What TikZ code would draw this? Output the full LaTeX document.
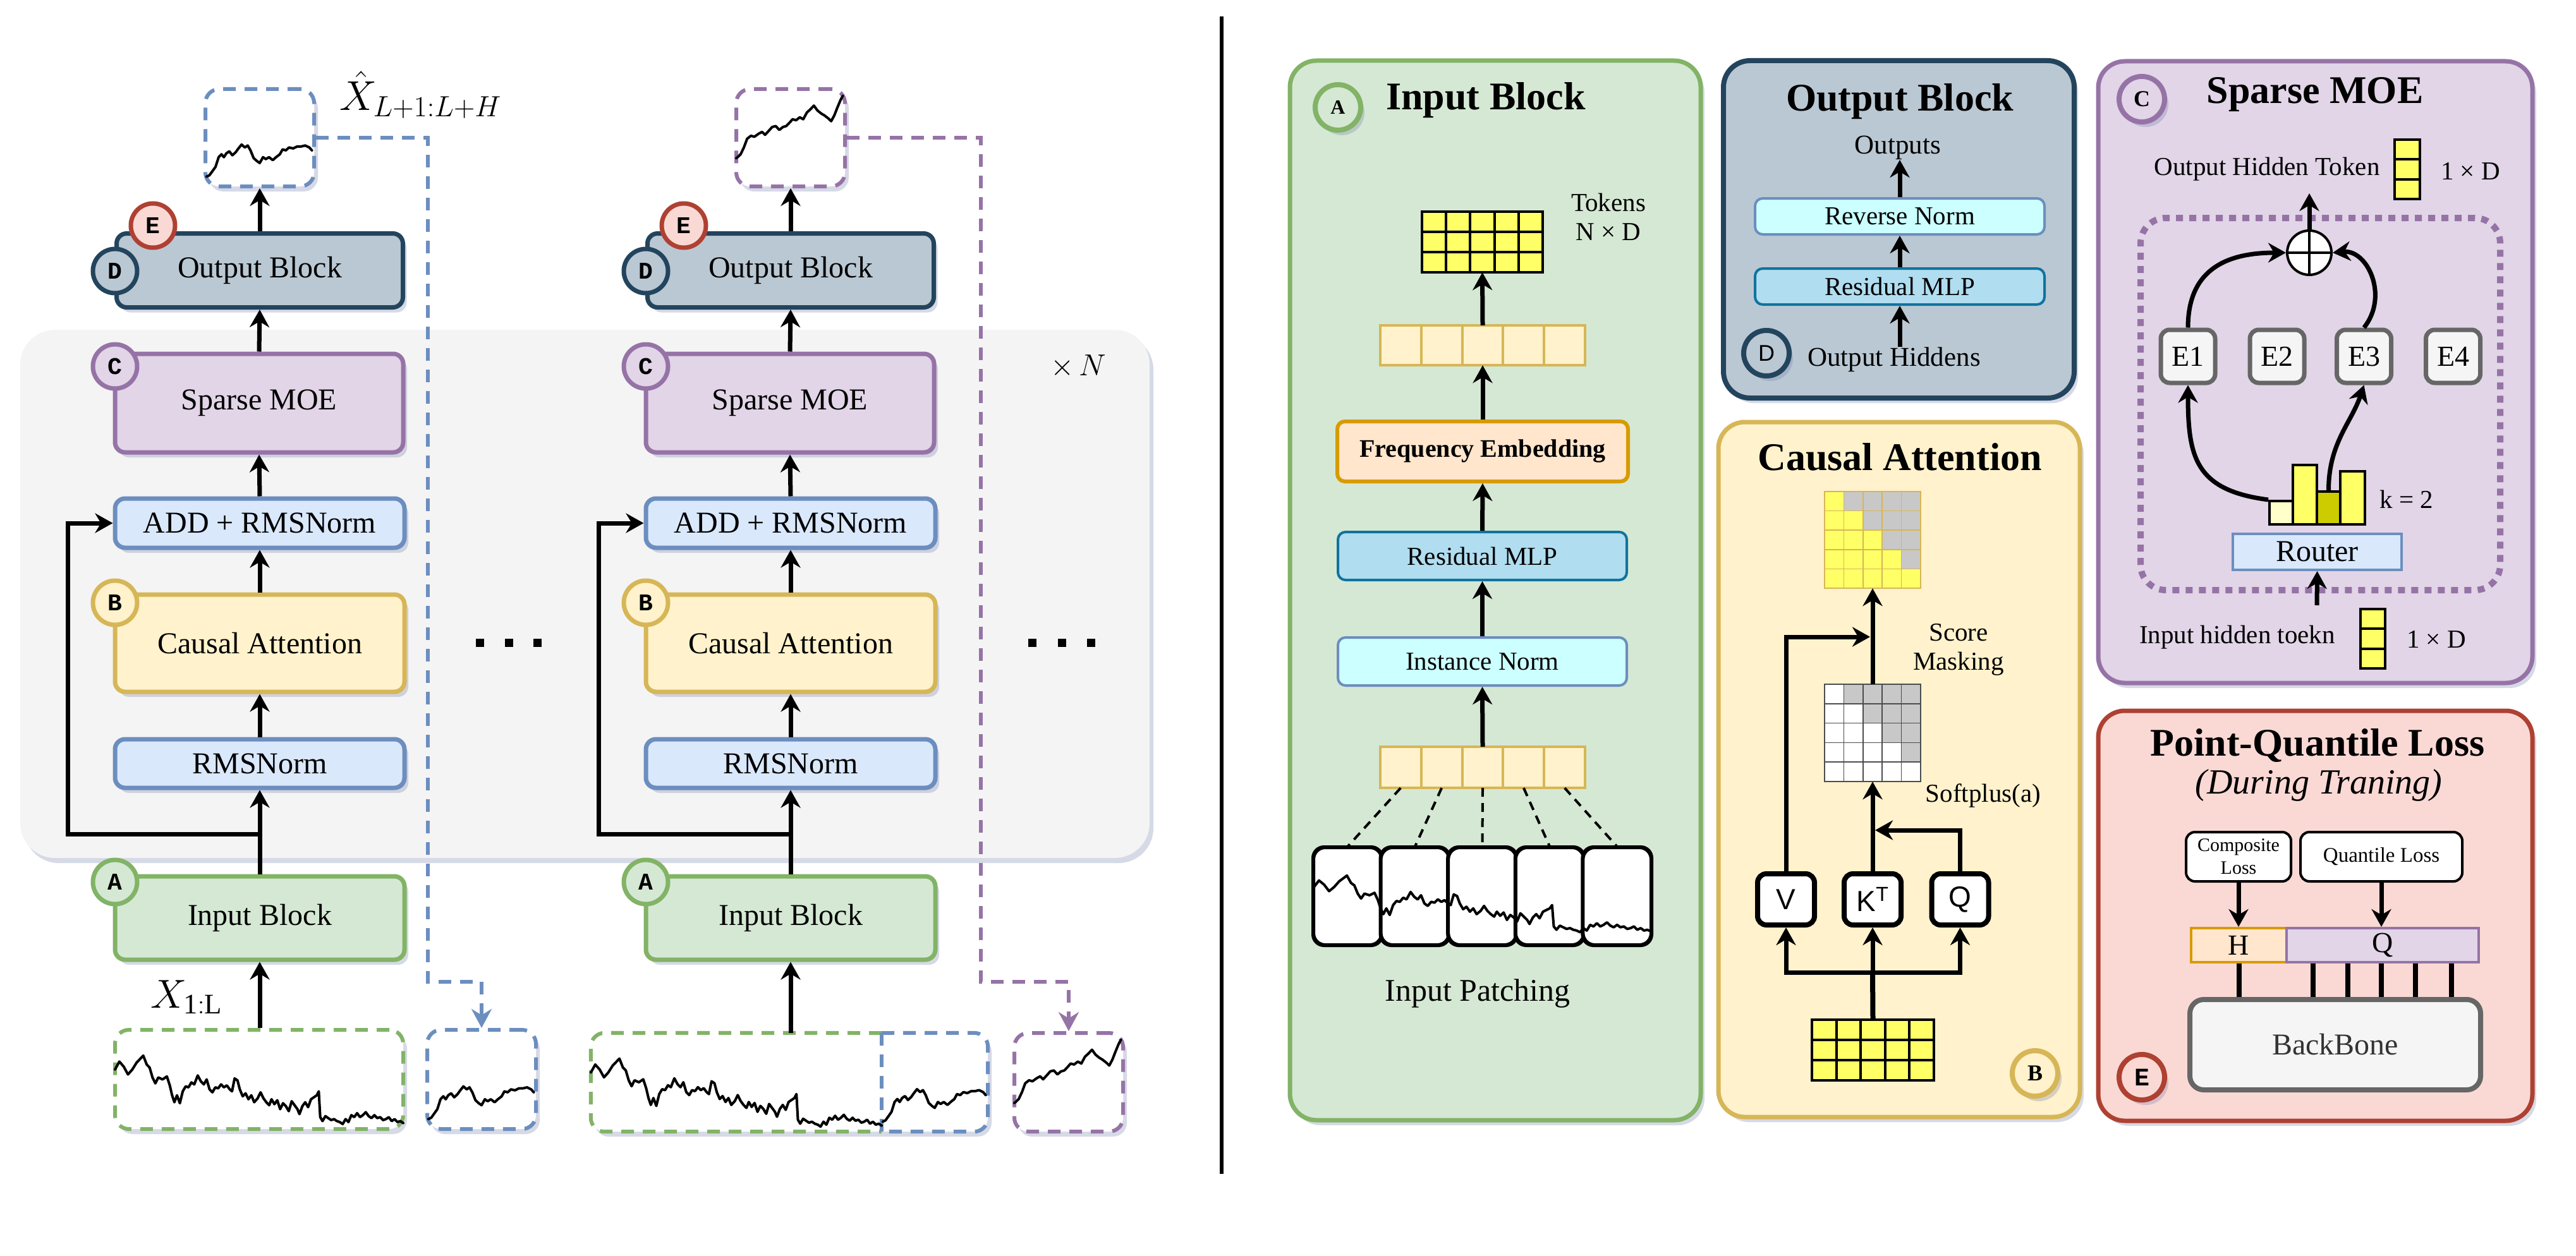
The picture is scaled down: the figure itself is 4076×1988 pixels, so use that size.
\RequirePackage{fix-cm}
\documentclass[tikz,border=0pt]{standalone}
\usepackage{fontspec}
\setmainfont{Liberation Serif}
\setsansfont{Liberation Sans}
\setmonofont{Liberation Mono}
\usetikzlibrary{arrows.meta,shadows,calc}
\definecolor{cG}{HTML}{82B366}\definecolor{cGf}{HTML}{D5E8D4}
\definecolor{cB}{HTML}{6C8EBF}\definecolor{cBf}{HTML}{DAE8FC}
\definecolor{cY}{HTML}{D6B656}\definecolor{cYf}{HTML}{FFF2CC}
\definecolor{cP}{HTML}{9673A6}\definecolor{cPf}{HTML}{E1D5E7}
\definecolor{cDB}{HTML}{23445D}\definecolor{cDBf}{HTML}{BAC8D3}
\definecolor{cR}{HTML}{AE4132}\definecolor{cRf}{HTML}{FAD9D5}
\definecolor{cO}{HTML}{D79B00}\definecolor{cOf}{HTML}{FFE6CC}
\definecolor{cCy}{HTML}{CCFFFF}
\definecolor{cRM}{HTML}{10739E}\definecolor{cRMf}{HTML}{B1DDF0}
\definecolor{cGr}{HTML}{666666}\definecolor{cGrf}{HTML}{F5F5F5}
\definecolor{cTok}{HTML}{FFFF66}\definecolor{cBar1}{HTML}{FFFFCC}
\definecolor{cBar3}{HTML}{CCCC00}\definecolor{cCell}{HTML}{C8C8C8}
\definecolor{shc}{HTML}{6F77A8}\definecolor{bgc}{HTML}{F4F4F4}
\newcommand\fsz[2]{\fontsize{#1}{#2}\selectfont}
\tikzset{
 sh/.style={drop shadow={shadow xshift=6pt, shadow yshift=-8pt, opacity=0.28, fill=shc}},
 lbox/.style={rounded corners=16pt, line width=7pt, inner sep=0pt, font=\fsz{48}{56}, sh},
 lcirc/.style={circle, line width=7pt, minimum size=70pt, inner sep=0pt, font=\ttfamily\bfseries\fsz{38}{40}},
 arr/.style={line width=7pt, -{Stealth[length=28pt,width=31pt]}},
 thk/.style={line width=8pt},
 dsh/.style={line width=6pt, dash pattern=on 20pt off 14pt, -{Stealth[length=30pt,width=32pt]}},
 obox/.style={rounded corners=22pt, line width=6pt, dash pattern=on 20pt off 14pt, fill=white, inner sep=0pt, sh},
 serie/.style={line width=4pt, line join=round, line cap=round, black},
 panel/.style={rounded corners=42pt, line width=7pt, inner sep=0pt, sh},
 ibox/.style={rounded corners=12pt, line width=4pt, inner sep=0pt, font=\fsz{41}{48}},
 ttl/.style={font=\bfseries\fsz{62}{70}, inner sep=0pt},
 txt/.style={font=\fsz{41}{46}, inner sep=0pt},
 rcirc/.style={circle, line width=8pt, minimum size=72pt, inner sep=0pt, sh},
 gridn/.style={inner sep=0pt},
 tokcell/.style={fill=cTok, draw=black, line width=4pt},
 rowcell/.style={fill=cYf, draw=cY, line width=4pt},
 patchbox/.style={rounded corners=18pt, line width=4pt, draw=black, fill=white, minimum width=106.6pt, minimum height=153pt, inner sep=0pt},
 pdash/.style={line width=4pt, dash pattern=on 14pt off 10pt},
 qkv/.style={rounded corners=14pt, line width=8pt, draw=black, fill=white, minimum width=90pt, minimum height=81pt, inner sep=0pt, font=\sffamily\fsz{46}{50}},
 expert/.style={draw=cGr, fill=cGrf, line width=7pt, rounded corners=14pt, minimum width=86pt, minimum height=84pt, inner sep=0pt, font=\fsz{46}{50}},
 barn/.style={draw=black, line width=4pt, inner sep=0pt},
 lossbox/.style={draw=black, fill=white, line width=4pt, rounded corners=14pt, inner sep=0pt},
}
\newcommand\serA{plot coordinates {(0,40) (1.5,32) (3,37) (4.5,45) (6,40) (7.5,33) (8.5,30) (9.8,26) (11,35) (12,38) (13,48) (14,54) (15,48) (16.5,50) (18,47) (19,56) (19.8,66) (20.6,73) (21.5,66) (22.5,74) (23.5,62) (24.5,57) (25.5,58) (26.5,53) (27.5,55) (28.7,46) (29.8,52) (30.8,55) (31.8,50) (32.8,60) (33.8,63) (34.8,58) (35.8,59) (36.8,55) (37.8,58) (38.8,56) (39.8,60) (40.6,62) (41.5,49) (42.5,51) (43.3,60) (44.3,67) (45.3,64) (46.3,70) (47.3,66) (48.3,73) (49.5,69) (50.5,63) (51.5,69) (52.5,73) (53.5,76) (54.3,70) (55.3,75) (56.3,71) (57.3,80) (58.3,74) (59.3,77) (60.3,82) (61.3,72) (62.3,76) (63.3,80) (64,85) (65,77) (66,73) (67,78) (68,70) (69,68) (70,66) (70.7,62) (71.2,88) (72,92) (73,87) (74,89) (75,91) (76,90) (77,92) (78,93) (79,95) (80,90) (81,93) (82,86) (83,88) (84,84) (85,88) (86,86) (87,83) (88,87) (89,89) (90,86) (91,89) (92,88) (93,91) (94,90) (95,88) (96,92) (97,90) (98,93) (99,92) (100,94)}}
\newcommand\serB{plot coordinates {(1,90) (3.7,88.6) (6.7,84) (9.3,80) (12.2,70) (14.8,67) (17,70) (19.3,66) (22,64) (24.8,68) (27.8,65) (30.4,61) (33.3,57) (36.3,60) (38.9,58) (41.5,63) (44.4,71) (47.4,74) (50,76) (53,70) (55.6,72) (58.5,70) (62,73) (65,70) (68.5,67) (71,62) (74,63) (77,60) (80.7,61) (84.4,59) (88,59) (91.8,58) (95.6,60) (98,63)}}
\newcommand\serC{plot coordinates {(0,71) (1.2,70) (4,67) (7,60) (10,51) (13.5,48) (16.7,49) (20.4,46) (23.7,44) (26.5,47) (29.8,43) (33,39) (36.3,38) (39.6,42) (42.9,39) (46,38) (49.4,34) (51.8,31) (55,32) (58.4,29) (61.6,31) (65,24) (68,21) (71.4,17) (74.7,22) (78,25) (81,27) (84.5,30) (87.3,33) (90.2,27) (93,19) (96,11) (98,7)}}
\newcommand\drawser[5]{\begin{scope}[shift={(#2,#3)},xscale=#4/100,yscale=#5/100]\draw[serie] #1;\end{scope}}
\newcommand\cellgrid[7]{%
 \foreach \ci in {1,...,#5}{\foreach \cj in {1,...,#6}{%
  \draw[#7] ({#1+(\ci-1)*#3},{#2+(\cj-1)*#4}) rectangle ++(#3,#4);}}}
\newcommand\archcol[4]{%
\begin{scope}[xshift=#2pt]
 \node[lbox, draw=cDB, fill=cDBf, minimum width=453pt, minimum height=117pt] (ob#1) at (411,428) {Output Block};
 \node[lcirc, draw=cDB, fill=cDBf] (circD#1) at (182,429) {D};
 \node[lcirc, draw=cR, fill=cRf] (circE#1) at (242,357) {E};
 \node[lbox, draw=cP, fill=cPf, minimum width=456pt, minimum height=156pt] (moe#1) at (410,638) {Sparse MOE};
 \node[lcirc, draw=cP, fill=cPf] (circC#1) at (182,580) {C};
 \node[lbox, draw=cB, fill=cBf, minimum width=458pt, minimum height=78pt] (add#1) at (411,828) {ADD + RMSNorm};
 \node[lbox, draw=cY, fill=cYf, minimum width=458pt, minimum height=154pt] (cat#1) at (411,1018) {Causal Attention};
 \node[lcirc, draw=cY, fill=cYf] (circB#1) at (182,954) {B};
 \node[lbox, draw=cB, fill=cBf, minimum width=458pt, minimum height=77pt] (rms#1) at (411,1208.5) {RMSNorm};
 \node[lbox, draw=cG, fill=cGf, minimum width=458pt, minimum height=132pt] (ib#1) at (411,1453) {Input Block};
 \node[lcirc, draw=cG, fill=cGf] (circA#1) at (182,1396) {A};
 \node[obox, draw=#3, minimum width=172pt, minimum height=154pt] (out#1) at (411,218) {};
 \drawser{#4}{325}{141}{172}{154}
 \draw[arr] (ob#1.north) -- (out#1.south);
 \draw[arr] (moe#1.north) -- (ob#1.south);
 \draw[arr] (add#1.north) -- (moe#1.south);
 \draw[arr] (cat#1.north) -- (add#1.south);
 \draw[arr] (rms#1.north) -- (cat#1.south);
 \draw[arr] (ib#1.north) -- (rms#1.south);
 \coordinate (j#1) at (411,1320);
 \coordinate (k#1) at (107,1320);
 \draw[arr] (j#1) -- (k#1) |- (add#1.west);
\end{scope}}
\begin{document}
\begin{tikzpicture}[x=1pt,y=-1pt]
\useasboundingbox (0,0) rectangle (4076,1988);
\fill[white] (0,0) rectangle (4076,1988);
% ================= LEFT PANEL =================
\node[fill=bgc, rounded corners=55pt, minimum width=1787pt, minimum height=836pt, inner sep=0pt, sh] (bg) at (925.5,940) {};
\node[inner sep=0pt, font=\fsz{48}{52}] (timesN) at (1706,580) {$\times\, N$};
\archcol{1}{0}{cB}{\serB}
\archcol{2}{840}{cP}{\serC}
% ellipses
\foreach \xx in {759,805,850,1633,1680,1726}{\fill ({\xx-6.5},1011) rectangle ++(13,13);}
% labels
\node[inner sep=0pt, font=\fsz{66}{70}] (xhat) at (665,150) {$\hat{X}_{L+1:L+H}$};
\node[inner sep=0pt, font=\fsz{64}{70}] (xin) at (295,1578) {$X_{\mathrm{1:L}}$};
% column 1 series boxes
\node[obox, draw=cG, minimum width=456pt, minimum height=157pt] (in1) at (410,1708.5) {};
\drawser{\serA}{182}{1630}{456}{157}
\node[obox, draw=cB, minimum width=172pt, minimum height=157pt] (gt1) at (762,1708.5) {};
\drawser{\serB}{676}{1630}{172}{157}
\draw[arr] (in1.north -| ib1.south) -- (ib1.south);
\coordinate (v1) at (677,1554);
\draw[dsh, draw=cB] (out1.east) -| (v1) -| (gt1.north);
% column 2 series boxes
\node[fill=white, inner sep=0pt, rounded corners=22pt, minimum width=628pt, minimum height=156pt, sh] (in2) at (1249,1713) {};
\draw[line width=6pt, dash pattern=on 20pt off 14pt, draw=cG, rounded corners=22pt] (1395,1635) -- (in2.north west) -- (in2.south west) -- (1395,1791);
\draw[line width=6pt, dash pattern=on 20pt off 14pt, draw=cB, rounded corners=22pt] (1395,1635) -- (in2.north east) -- (in2.south east) -- (1395,1791);
\draw[line width=6pt, dash pattern=on 20pt off 14pt, draw=cB] (1395,1635) -- (1395,1791);
\drawser{\serA}{935}{1635}{460}{156}
\drawser{\serB}{1395}{1635}{168}{156}
\node[obox, draw=cP, minimum width=172pt, minimum height=156pt] (gt2) at (1691,1713) {};
\drawser{\serC}{1605}{1635}{172}{156}
\draw[arr] (in2.north -| ib2.south) -- (ib2.south);
\coordinate (v2) at (1552,1554);
\draw[dsh, draw=cP] (out2.east) -| (v2) -| (gt2.north);
% divider
\draw[line width=6pt] (1933,26) -- (1933,1858);
% ================= PANEL A : INPUT BLOCK =================
\node[panel, draw=cG, fill=cGf, minimum width=650pt, minimum height=1677pt] (pA) at (2366,934.5) {};
\node[rcirc, draw=cG, fill=cGf, font=\bfseries\fsz{32}{36}] (cA) at (2117,170) {A};
\node[ttl] (tA) at (2351,159) {Input Block};
\node[gridn, minimum width=191pt, minimum height=96pt] (tokA) at (2345.5,383) {};
\cellgrid{2250}{335}{38.2}{32}{5}{3}{tokcell}
\node[txt, align=center] (lblTok) at (2545,343) {Tokens\\N × D};
\node[gridn, minimum width=324pt, minimum height=63pt] (rowA) at (2346,546.5) {};
\cellgrid{2184}{515}{64.8}{63}{5}{1}{rowcell}
\node[ibox, draw=cO, fill=cOf, line width=6pt, minimum width=460pt, minimum height=95pt, font=\bfseries\fsz{40}{48}] (fe) at (2346,714.5) {Frequency Embedding};
\node[ibox, draw=cRM, fill=cRMf, minimum width=457pt, minimum height=76pt] (rmA) at (2345.5,880) {Residual MLP};
\node[ibox, draw=cB, fill=cCy, minimum width=457pt, minimum height=76pt] (inorm) at (2345.5,1047) {Instance Norm};
\node[gridn, minimum width=324pt, minimum height=65pt] (rowB) at (2346,1214.5) {};
\cellgrid{2184}{1182}{64.8}{65}{5}{1}{rowcell}
\foreach \i in {0,...,4}{
 \pgfmathsetmacro\px{2079+106.6*\i}
 \node[patchbox] (pt\i) at ({\px+53.3},1418.5) {};
 \begin{scope}
  \clip ($(pt\i.north west)+(3,3)$) rectangle ($(pt\i.south east)+(-3,-3)$);
  \drawser{\serA}{2079}{1352}{533}{130}
 \end{scope}
 \draw[patchbox, fill=none] (pt\i.north west) rectangle (pt\i.south east);
 \draw[pdash] ($(rowB.south west)!{(\i+0.5)/5}!(rowB.south east)$) -- (pt\i.north);
}
\node[txt, font=\fsz{50}{56}] (lblPatch) at (2338,1573) {Input Patching};
\draw[arr] (rowB.north) -- (inorm.south);
\draw[arr] (inorm.north) -- (rmA.south);
\draw[arr] (rmA.north) -- (fe.south);
\draw[arr] (fe.north) -- (rowA.south);
\draw[arr] (rowA.north) -- (tokA.south);
% ================= PANEL D : OUTPUT BLOCK =================
\node[panel, draw=cDB, fill=cDBf, line width=8pt, minimum width=555pt, minimum height=534pt] (pD) at (3004.5,363) {};
\node[ttl] (tD) at (3006,161) {Output Block};
\node[txt, font=\fsz{43}{48}] (outs) at (3003,234) {Outputs};
\node[ibox, draw=cB, fill=cCy, minimum width=458pt, minimum height=57pt] (rn) at (3006,342.5) {Reverse Norm};
\node[ibox, draw=cRM, fill=cRMf, minimum width=458pt, minimum height=57pt] (rmD) at (3006,453.5) {Residual MLP};
\node[txt, font=\fsz{43}{48}] (ohid) at (2997,569) {Output Hiddens};
\node[rcirc, draw=cDB, fill=cDBf, font=\sffamily\fsz{36}{40}] (cD) at (2795,559) {D};
\draw[arr] (rmD.south |- ohid.north) -- (rmD.south);
\draw[arr] (rmD.north) -- (rn.south);
\draw[arr] (rn.north) -- (rn.north |- outs.south);
% ================= PANEL B : CAUSAL ATTENTION =================
\node[panel, draw=cY, fill=cYf, minimum width=572pt, minimum height=1100pt] (pB) at (3005,1218) {};
\node[ttl] (tB) at (3006,723) {Causal Attention};
\node[gridn, minimum width=152pt, minimum height=153pt] (m1) at (2963,854.5) {};
\foreach \ci in {1,...,5}{\foreach \cj in {1,...,5}{
 \ifnum\ci>\cj \def\cc{cCell}\else\def\cc{cTok}\fi
 \draw[fill=\cc, draw=cY, line width=1.5pt] ({2887+(\ci-1)*30.4},{778+(\cj-1)*30.6}) rectangle ++(30.4,30.6);}}
\node[gridn, minimum width=152pt, minimum height=154pt] (m2) at (2963,1160) {};
\foreach \ci in {1,...,5}{\foreach \cj in {1,...,5}{
 \ifnum\ci>\cj \def\cc{cCell}\else\def\cc{white}\fi
 \draw[fill=\cc, draw=black!70, line width=1.5pt] ({2887+(\ci-1)*30.4},{1083+(\cj-1)*30.8}) rectangle ++(30.4,30.8);}}
\node[txt, align=center] (lblSM) at (3099,1028) {Score\\Masking};
\node[txt] (lblSP) at (3138,1259) {Softplus(a)};
\node[qkv] (bV) at (2826,1423.5) {V};
\node[qkv] (bK) at (2963,1423.5) {K\textsuperscript{T}};
\node[qkv] (bQ) at (3101.5,1423.5) {Q};
\node[gridn, minimum width=193pt, minimum height=96pt] (gB) at (2963.5,1662) {};
\cellgrid{2867}{1614}{38.6}{32}{5}{3}{tokcell}
\node[rcirc, draw=cY, fill=cYf, font=\bfseries\fsz{36}{40}] (cB) at (3220,1699) {B};
\coordinate (bus) at (2963,1539);
\draw[thk] (gB.north) -- (bus);
\draw[arr] (bus) -| (bV.south);
\draw[arr] (bus) -| (bQ.south);
\draw[arr] (bus) -- (bK.south);
\draw[arr] (bK.north) -- (m2.south);
\coordinate (qj) at (2967,1314);
\draw[arr] (bQ.north) |- (qj);
\coordinate (vj) at (2959,1008);
\draw[arr] (bV.north) |- (vj);
\draw[arr] (m2.north) -- (m1.south);
% ================= PANEL C : SPARSE MOE =================
\node[panel, draw=cP, fill=cPf, minimum width=687pt, minimum height=984pt] (pC) at (3663.5,589) {};
\node[rcirc, draw=cP, fill=cPf, font=\bfseries\fsz{36}{40}] (cC) at (3389,157) {C};
\node[ttl] (tC) at (3663,150) {Sparse MOE};
\node[txt] (lblOHT) at (3587,268) {Output Hidden Token};
\node[gridn, minimum width=40pt, minimum height=94pt] (tokO) at (3809,268) {};
\cellgrid{3789}{221}{40}{31.33}{1}{3}{tokcell}
\node[txt] (lblD1) at (3909,271) {1 × D};
\node[draw=cP, line width=10pt, dash pattern=on 11pt off 10pt, rounded corners=40pt, inner sep=0pt, minimum width=569pt, minimum height=589pt] (moebox) at (3671.5,639.5) {};
\node[circle, draw=black, line width=4pt, fill=white, minimum size=70pt, inner sep=0pt] (plus) at (3654,400) {};
\draw[line width=4pt] (plus.north) -- (plus.south) (plus.west) -- (plus.east);
\coordinate (otip) at (3654,306);
\draw[arr] (plus.north) -- (otip);
\node[expert] (e1) at (3462,564) {E1};
\node[expert] (e2) at (3603,564) {E2};
\node[expert] (e3) at (3740.5,564) {E3};
\node[expert] (e4) at (3881.5,564) {E4};
\node[barn, fill=cBar1, minimum width=37pt, minimum height=37pt] (bar1) at (3609.5,811.5) {};
\node[barn, fill=cTok, minimum width=38pt, minimum height=94pt] (bar2) at (3647,783) {};
\node[barn, fill=cBar3, minimum width=37pt, minimum height=52pt] (bar3) at (3684.5,804) {};
\node[barn, fill=cTok, minimum width=39pt, minimum height=84pt] (bar4) at (3722.5,788) {};
\draw[arr] (e1.north) .. controls +(0,-95) and +(-90,0) .. (plus.west);
\draw[arr] (e3.north) .. controls +(40,-50) and +(55,-5) .. (plus.east);
\draw[arr] (bar1.north west) .. controls +(-115,-15) and +(0,115) .. (e1.south);
\draw[arr] (bar3.north) .. controls +(0,-75) and +(-20,60) .. (e3.south);
\node[txt] (lblK) at (3808,790) {k = 2};
\node[draw=cB, fill=cBf, line width=4pt, minimum width=267pt, minimum height=57pt, inner sep=0pt, font=\fsz{48}{52}] (router) at (3666.5,873.5) {Router};
\coordinate (itip) at (3666,958);
\draw[arr] (itip) -- (router.south);
\node[txt] (lblIHT) at (3540,1009) {Input hidden toekn};
\node[gridn, minimum width=39pt, minimum height=94pt] (tokI) at (3754.5,1011) {};
\cellgrid{3735}{964}{39}{31.33}{1}{3}{tokcell}
\node[txt] (lblD2) at (3855,1012) {1 × D};
% ================= PANEL E : LOSS =================
\node[panel, draw=cR, fill=cRf, minimum width=687pt, minimum height=649pt] (pE) at (3663.5,1449.5) {};
\node[ttl] (tE) at (3667,1180) {Point-Quantile Loss};
\node[inner sep=0pt, font=\itshape\fsz{56}{60}] (tE2) at (3669,1243) {(During Traning)};
\node[lossbox, minimum width=166pt, minimum height=78pt, align=center, font=\fsz{30}{36}] (cl) at (3542,1356) {Composite\\Loss};
\node[lossbox, minimum width=256pt, minimum height=78pt, font=\fsz{33}{38}] (ql) at (3768,1356) {Quantile Loss};
\node[draw=cO, fill=cOf, line width=4pt, minimum width=151pt, minimum height=54pt, inner sep=0pt, font=\fsz{46}{50}] (hb) at (3542.5,1496) {H};
\node[draw=cP, fill=cPf, line width=4pt, minimum width=304pt, minimum height=54pt, inner sep=0pt, font=\fsz{46}{50}] (qb) at (3770,1496) {Q};
\node[draw=cGr, fill=cGrf, line width=8pt, rounded corners=22pt, minimum width=460pt, minimum height=143pt, inner sep=0pt, font=\fsz{48}{52}, text=black!80] (bb) at (3695,1653.5) {BackBone};
\node[rcirc, draw=cR, fill=cRf, font=\ttfamily\bfseries\fsz{40}{44}] (cE) at (3389,1705) {E};
\draw[arr] (cl.south) -- (cl.south |- hb.north);
\draw[arr] (ql.south) -- (ql.south |- qb.north);
\draw[thk] (hb.south) -- (hb.south |- bb.north);
\foreach \xx in {3660,3715,3768,3822,3879}{\draw[thk] (\xx,0 |- qb.south) -- (\xx,0 |- bb.north);}
\end{tikzpicture}
\end{document}
